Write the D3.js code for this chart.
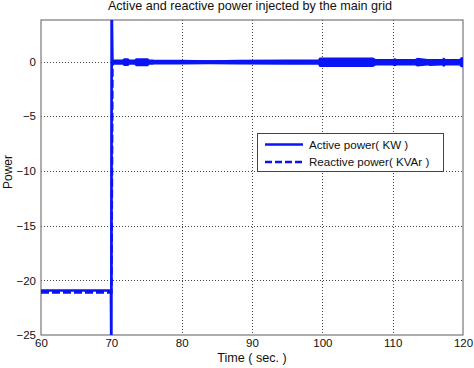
<!DOCTYPE html>
<html lang="en">
<head>
<meta charset="UTF-8">
<title>Active and reactive power</title>
<script src="https://cdn.jsdelivr.net/npm/d3@7/dist/d3.min.js"></script>
<style>
	body { margin: 0; background: #fff; }
	svg text { font-family: "Liberation Sans", Arial, sans-serif; fill: #111; }
</style>
</head>
<body>
<div id="chart"></div>
<script>
	// tick labels
	var xTicks = [60, 70, 80, 90, 100, 110, 120];
	var yTicks = [0, -5, -10, -15, -20, -25];

	// active power: -20.9 before the switch, spike at t=70, then ~0
	var activeT = [60, 69.95, 70, 70.05, 70.15, 120];
	var activeP = [-20.93, -20.93, -27, 5, 0, 0];

	// reactive power (dashed)
	var reactiveT = [60, 70, 70.15, 120];
	var reactiveP = [-21.1, -21.1, -0.05, -0.05];

	// noise envelope after t=70
	var envT  = [70.1, 71.6, 71.8, 72.4, 72.6, 73.3, 73.5, 75.2, 75.4, 75.9, 76.1, 80, 84, 88, 95, 99.4, 99.6, 107.2, 107.6, 110, 110.3, 110.6, 112, 113.2, 113.5, 115, 115.3, 117, 117.3, 117.5, 119.5, 119.7, 120];
	var envHi = [0.18, 0.18, 0.30, 0.30, 0.18, 0.18, 0.30, 0.30, 0.18, 0.18, 0.16, 0.16, 0.13, 0.16, 0.18, 0.18, 0.38, 0.38, 0.24, 0.24, 0.30, 0.24, 0.24, 0.24, 0.34, 0.24, 0.24, 0.24, 0.38, 0.24, 0.24, 0.40, 0.40];
	var envLo = [-0.28, -0.28, -0.40, -0.40, -0.28, -0.28, -0.42, -0.42, -0.28, -0.28, -0.26, -0.26, -0.24, -0.26, -0.28, -0.28, -0.50, -0.50, -0.36, -0.36, -0.42, -0.36, -0.36, -0.36, -0.46, -0.36, -0.40, -0.36, -0.50, -0.36, -0.36, -0.52, -0.52];

	var width = 474, height = 368;
	var margin = {top: 20, right: 11, bottom: 33, left: 41};
	var blue = "#0a14f5";

	var svg = d3.select("#chart").append("svg")
		.attr("width", width)
		.attr("height", height);

	var x = d3.scaleLinear().domain([60, 120]).range([margin.left, width - margin.right]);
	var y = d3.scaleLinear().domain([-25, 3.8]).range([height - margin.bottom, margin.top]);

	svg.append("defs").append("clipPath").attr("id", "clip")
		.append("rect")
		.attr("x", x(60)).attr("y", y(3.8))
		.attr("width", x(120) - x(60)).attr("height", y(-25) - y(3.8));

	// grid
	var grid = svg.append("g").attr("stroke", "#444").attr("stroke-width", 1).attr("stroke-dasharray", "1,2");
	grid.selectAll(".gx").data(xTicks.slice(1, -1)).enter().append("line")
		.attr("x1", d => Math.round(x(d)) + 0.5).attr("x2", d => Math.round(x(d)) + 0.5)
		.attr("y1", y(3.8)).attr("y2", y(-25));
	grid.selectAll(".gy").data(yTicks.slice(0, -1)).enter().append("line")
		.attr("y1", d => Math.round(y(d)) + 0.5).attr("y2", d => Math.round(y(d)) + 0.5)
		.attr("x1", x(60)).attr("x2", x(120));

	// axes
	var xAxis = d3.axisBottom(x).tickValues(xTicks).tickSize(0).tickPadding(4)
		.tickFormat(d3.format("d"));
	var yAxis = d3.axisLeft(y).tickValues(yTicks).tickSize(0).tickPadding(5)
		.tickFormat(d => d < 0 ? "\u2212" + Math.abs(d) : d);

	var gx = svg.append("g").attr("transform", "translate(0," + y(-25) + ")").call(xAxis);
	var gy = svg.append("g").attr("transform", "translate(" + x(60) + ",0)").call(yAxis);
	[gx, gy].forEach(function(g){
		g.select(".domain").remove();
		g.selectAll("text").attr("font-size", 11.5).attr("fill", "#111")
			.style("font-family", "'Liberation Sans', Arial, sans-serif");
	});

	// frame
	svg.append("rect")
		.attr("x", x(60)).attr("y", y(3.8))
		.attr("width", x(120) - x(60)).attr("height", y(-25) - y(3.8))
		.attr("fill", "none").attr("stroke", "#777").attr("stroke-width", 1.2);

	var plot = svg.append("g").attr("clip-path", "url(#clip)");

	// noise band
	var band = d3.area()
		.x((d, i) => x(envT[i]))
		.y0((d, i) => y(envLo[i]))
		.y1((d, i) => y(envHi[i]));
	plot.append("path").datum(envT).attr("d", band).attr("fill", blue);

	var line = d3.line().x(d => x(d[0])).y(d => y(d[1]));

	plot.append("path")
		.datum(reactiveT.map((t, i) => [t, reactiveP[i]]))
		.attr("d", line).attr("fill", "none")
		.attr("stroke", blue).attr("stroke-width", 2.7).attr("stroke-dasharray", "8,3");

	plot.append("path")
		.datum(activeT.map((t, i) => [t, activeP[i]]))
		.attr("d", line).attr("fill", "none")
		.attr("stroke", blue).attr("stroke-width", 2.7);

	// legend
	var lg = svg.append("g");
	lg.append("rect").attr("x", 257.5).attr("y", 133.5).attr("width", 186).attr("height", 38)
		.attr("fill", "#fff").attr("stroke", "#444").attr("stroke-width", 1);
	var items = [["Active power( KW )", null], ["Reactive power( KVAr )", "7,3"]];
	items.forEach(function(it, i){
		var yy = 144.5 + i * 17.5;
		lg.append("line").attr("x1", 265).attr("x2", 303).attr("y1", yy).attr("y2", yy)
			.attr("stroke", blue).attr("stroke-width", 2.5)
			.attr("stroke-dasharray", it[1]);
		lg.append("text").attr("x", 309).attr("y", yy + 4).attr("font-size", 11.6).text(it[0]);
	});

	// titles
	svg.append("text").attr("x", 250).attr("y", 9.5).attr("text-anchor", "middle")
		.attr("font-size", 12.6).text("Active and reactive power injected by the main grid");
	svg.append("text").attr("x", 252).attr("y", 361.5).attr("text-anchor", "middle")
		.attr("font-size", 12.6).text("Time ( sec. )");
	svg.append("text").attr("transform", "translate(12,172) rotate(-90)").attr("text-anchor", "middle")
		.attr("font-size", 12).text("Power");
</script>
</body>
</html>
